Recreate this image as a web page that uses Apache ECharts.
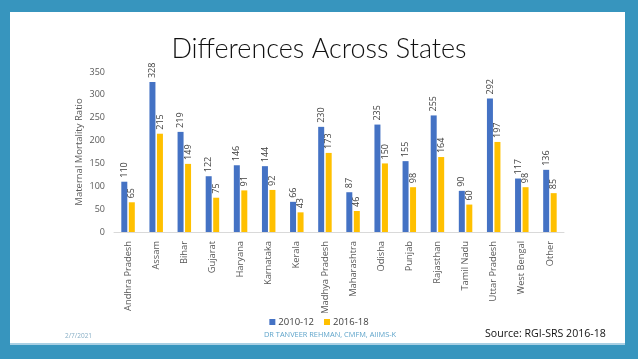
<!DOCTYPE html>
<html>
<head>
<meta charset="utf-8">
<script src="https://cdn.jsdelivr.net/npm/echarts@6/dist/echarts.min.js"></script>
<style>html,body{margin:0;padding:0;background:#3795BE;}#c{width:638px;height:359px;}</style>
</head>
<body>
<div id="c"></div>
<script>
const states = ["Andhra Pradesh","Assam","Bihar","Gujarat","Haryana","Karnataka","Kerala","Madhya Pradesh","Maharashtra","Odisha","Punjab","Rajasthan","Tamil Nadu","Uttar Pradesh","West Bengal","Other"];
const mmr2010_12 = [110,328,219,122,146,144,66,230,87,235,155,255,90,292,117,136];
const mmr2016_18 = [65,215,149,75,91,92,43,173,46,150,98,164,60,197,98,85];
const seriesNames = ["2010-12","2016-18"];
const yTicks = [0,50,100,150,200,250,300,350];

const chart = echarts.init(document.getElementById('c'), null, {renderer:'canvas'});
const FONT = 'Open Sans';
const barLabel = {
  show: true, position: 'top', rotate: 90, align: 'left', verticalAlign: 'middle',
  distance: 4, fontSize: 9, color: '#404040', fontFamily: FONT
};
chart.setOption({
  backgroundColor: '#3795BE',
  animation: false,
  textStyle: {fontFamily: FONT},
  graphic: [
    {type:'rect', z:-10, shape:{x:10,y:12,width:615,height:333}, style:{fill:'#ffffff'}},
    {type:'rect', z:-9, shape:{x:10,y:343,width:615,height:2}, style:{fill:'#A9D0E4'}},
    {type:'text', left:65, top:333, style:{text:'2/7/2021', fontSize:6.5, fill:'#88AFC6', fontFamily:FONT}},
    {type:'text', left:264, top:331, style:{text:'DR TANVEER REHMAN, CMFM, AIIMS-K', fontSize:7.4, fill:'#5EA4CA', fontFamily:FONT}},
    {type:'text', left:485, top:328, style:{text:'Source: RGI-SRS 2016-18', fontSize:10.6, fill:'#111111', fontFamily:FONT}}
  ],
  title: {
    text: 'Differences Across States', left: 'center', top: 31,
    textStyle: {fontFamily: 'Lato', fontWeight: 300, fontSize: 27, color: '#111111'}
  },
  legend: {
    data: seriesNames, bottom: 27, left: 'center',
    itemWidth: 6, itemHeight: 6, itemGap: 10, icon: 'rect',
    textStyle: {fontSize: 9.5, color: '#404040', padding:[0,0,0,-2]}
  },
  grid: {left: 114, right: 74, top: 72, bottom: 127},
  xAxis: {
    type: 'category', data: states,
    axisLine: {lineStyle: {color: '#D9D9D9'}},
    axisTick: {show: false},
    axisLabel: {rotate: 90, fontSize: 9.3, color: '#595959', margin: 9, interval: 0}
  },
  yAxis: {
    type: 'value', min: 0, max: 350, interval: 50,
    name: 'Maternal Mortality Ratio', nameLocation: 'middle', nameGap: 30,
    nameMoveOverlap: false,
    nameTextStyle: {fontSize: 9.5, color: '#595959'},
    splitLine: {show: false},
    axisLine: {show: false}, axisTick: {show: false},
    axisLabel: {fontSize: 9, color: '#595959', margin: 9,
      formatter: v => yTicks.includes(v) ? String(v) : ''}
  },
  series: [
    {name: seriesNames[0], type: 'bar', data: mmr2010_12, barWidth: 6, barGap: '25%',
      itemStyle: {color: '#4472C4'}, label: barLabel},
    {name: seriesNames[1], type: 'bar', data: mmr2016_18, barWidth: 6,
      itemStyle: {color: '#FFC000'}, label: barLabel}
  ]
});
</script>
</body>
</html>
